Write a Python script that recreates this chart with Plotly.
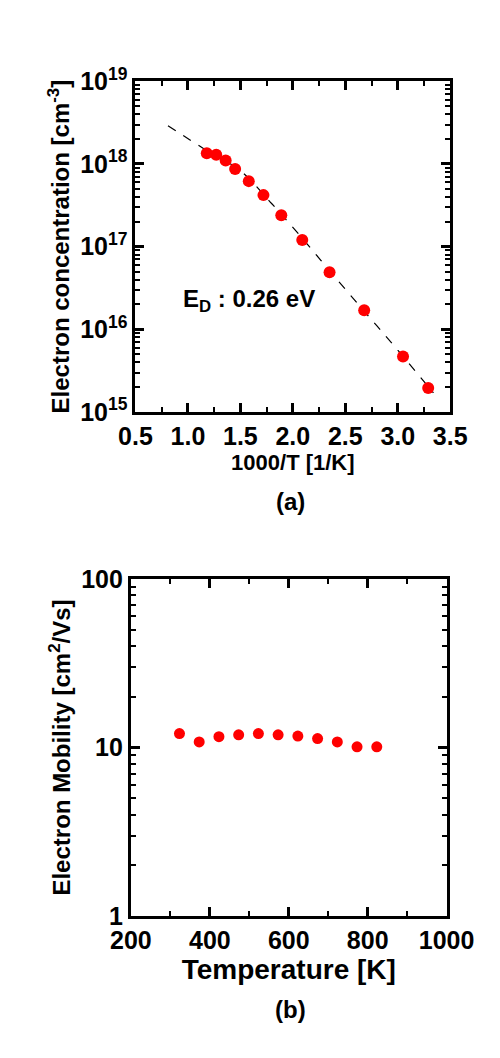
import plotly.graph_objects as go

# (a) carrier concentration vs 1000/T
inv_t = [1.18, 1.27, 1.36, 1.45, 1.58, 1.72, 1.89, 2.09, 2.35, 2.68, 3.05, 3.29]
conc = [1.35e18, 1.29e18, 1.1e18, 8.7e17, 6.2e17, 4.2e17, 2.4e17, 1.2e17, 4.9e16, 1.7e16, 4.7e15, 1.95e15]
fit_x = [0.81, 1.2, 1.5, 1.8, 2.1, 2.4, 2.7, 3.0, 3.34]
fit_y = [2.9e18, 1.4e18, 8.3e17, 3.3e17, 1.22e17, 4.3e16, 1.55e16, 5.6e15, 1.7e15]

# (b) mobility vs temperature
temp = [323, 373, 423, 473, 523, 573, 623, 673, 723, 773, 823]
mob = [12.1, 10.8, 11.6, 11.9, 12.1, 11.9, 11.7, 11.3, 10.8, 10.1, 10.1]

font = "Liberation Sans"
fig = go.Figure()
fig.add_trace(go.Scatter(x=fit_x, y=fit_y, mode="lines", line=dict(color="black", dash="dash", width=1.2, shape="spline"),
                         xaxis="x", yaxis="y", showlegend=False))
fig.add_trace(go.Scatter(x=inv_t, y=conc, mode="markers", marker=dict(color="#ff0000", size=12),
                         xaxis="x", yaxis="y", showlegend=False))
fig.add_trace(go.Scatter(x=temp, y=mob, mode="markers", marker=dict(color="#ff0000", size=11),
                         xaxis="x2", yaxis="y2", showlegend=False))

def log_minor(lo, hi):
    return [m * 10 ** e for e in range(lo, hi) for m in range(2, 10)]

ax = dict(showline=True, linecolor="black", linewidth=3, mirror="ticks", ticks="inside", ticklen=9,
          tickwidth=3, tickcolor="black", showgrid=False, zeroline=False,
          tickfont=dict(family=font, size=25, color="black", weight="bold"),
          title_font=dict(family=font, size=24, color="black", weight="bold"))
minor = dict(ticks="inside", ticklen=5, tickwidth=2, tickcolor="black", showgrid=False)

fig.update_layout(
    width=500, height=1058, margin=dict(l=0, r=0, t=0, b=0),
    plot_bgcolor="white", paper_bgcolor="white",
    xaxis=dict(ax, domain=[0.236, 0.934], anchor="y", range=[0.5, 3.5], dtick=0.5, tickformat=".1f",
               minor=dict(minor, dtick=0.25), title=dict(text="1000/T [1/K]", standoff=2,
               font=dict(family=font, size=22, color="black", weight="bold"))),
    yaxis=dict(ax, domain=[0.6238, 0.9461], anchor="x", type="log", range=[15, 19],
               tickvals=[1e15, 1e16, 1e17, 1e18, 1e19],
               ticktext=["10<sup>15</sup>", "10<sup>16</sup>", "10<sup>17</sup>", "10<sup>18</sup>", "10<sup>19</sup>"],
               minor=dict(minor, tickvals=log_minor(15, 19)),
               title=dict(text="Electron concentration [cm<sup>-3</sup>]", standoff=4)),
    xaxis2=dict(ax, domain=[0.226, 0.926], anchor="y2", range=[200, 1000], dtick=200,
                minor=dict(minor, dtick=100), title=dict(text="Temperature [K]", standoff=2,
                font=dict(family=font, size=28, color="black", weight="bold"))),
    yaxis2=dict(ax, domain=[0.1323, 0.4612], anchor="x2", type="log", range=[0, 2],
                tickvals=[1, 10, 100], ticktext=["1", "10", "100"],
                minor=dict(minor, tickvals=log_minor(0, 2)),
                title=dict(text="Electron Mobility [cm<sup>2</sup>/Vs]", standoff=4)),
    annotations=[
        dict(text="E<sub>D</sub> : 0.26 eV", x=0.93, y=16.35, xref="x", yref="y", xanchor="left",
             showarrow=False, font=dict(family=font, size=24, color="black", weight="bold")),
        dict(text="(a)", x=0.58, y=1 - 490 / 1058, xref="paper", yref="paper", showarrow=False,
             font=dict(family=font, size=24, color="black", weight="bold")),
        dict(text="(b)", x=0.58, y=1 - 1030 / 1058, xref="paper", yref="paper", showarrow=False,
             font=dict(family=font, size=24, color="black", weight="bold")),
    ],
)
fig.write_html("out.html")
